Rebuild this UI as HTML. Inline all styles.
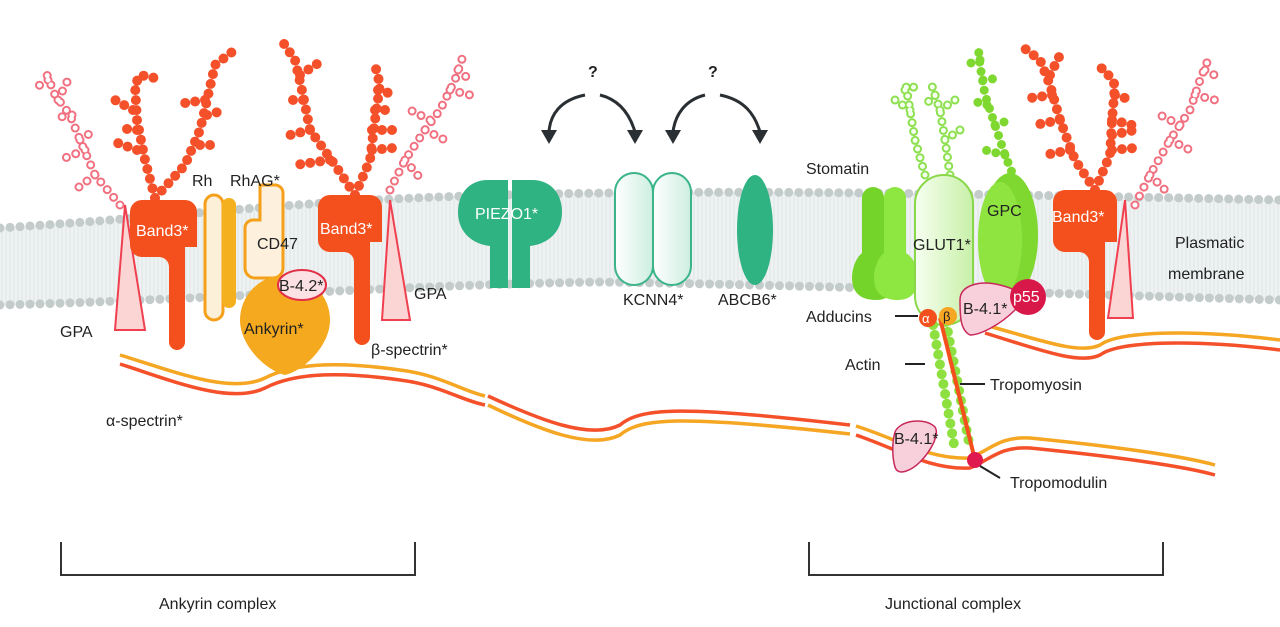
<!DOCTYPE html>
<html><head><meta charset="utf-8"><style>
html,body{margin:0;padding:0;background:#fff}
svg{display:block}
text{font-family:"Liberation Sans",sans-serif;font-size:16px;fill:#222}
</style></head><body>
<svg width="1280" height="627" viewBox="0 0 1280 627" xmlns="http://www.w3.org/2000/svg">
<defs>
<pattern id="lip" width="4" height="10" patternUnits="userSpaceOnUse"><rect width="4" height="10" fill="#eef2f2"/><line x1="2" y1="0" x2="2" y2="10" stroke="#dbe1e1" stroke-width="0.8"/></pattern>
<linearGradient id="pale" x1="0" x2="1"><stop offset="0" stop-color="#fff"/><stop offset="1" stop-color="#cdeee0"/></linearGradient>
<linearGradient id="pg" x1="0" x2="1"><stop offset="0" stop-color="#f6fff0"/><stop offset="1" stop-color="#c8f0a8"/></linearGradient>
</defs>
<!-- membrane -->
<path d="M0 228 C200 215 300 200 500 195 C700 190 900 192 1280 200 L1280 300 C1000 292 800 285 600 282 C400 285 200 300 0 305 Z" fill="url(#lip)"/>
<path d="M0 228 C200 215 300 200 500 195 C700 190 900 192 1280 200" fill="none" stroke="#c3cbcb" stroke-width="9" stroke-dasharray="0 10" stroke-linecap="round"/>
<path d="M0 305 C200 300 400 285 600 282 C800 285 1000 292 1280 300" fill="none" stroke="#c3cbcb" stroke-width="9" stroke-dasharray="0 10" stroke-linecap="round"/>

<!-- glycan trees red -->
<g fill="none" stroke="#f4502a" stroke-width="10" stroke-linecap="round" stroke-dasharray="0 10">
<path d="M155 198 L145 160 L137 120 L135 85 L140 75 L155 78"/>
<path d="M137 150 L115 142 M133 110 L115 100 M137 130 L118 128"/>
<path d="M155 198 L185 165 L200 130 L207 100 L215 65 L232 52"/>
<path d="M200 145 L220 145 M207 115 L225 110 M205 100 L185 103"/>
<path d="M355 195 L335 165 L310 130 L303 95 L295 60 L280 38"/>
<path d="M310 130 L290 135 M303 100 L285 100 M300 75 L320 62 M330 160 L295 165"/>
<path d="M355 195 L370 160 L375 120 L380 85 L375 65"/>
<path d="M372 150 L393 148 M375 110 L395 110 M378 90 L396 95 M372 130 L395 130"/>
<path d="M1095 190 L1075 160 L1060 120 L1050 85 L1040 60 L1020 45"/>
<path d="M1060 120 L1035 125 M1052 95 L1030 98 M1050 75 L1060 55 M1070 150 L1045 155"/>
<path d="M1095 190 L1110 155 L1112 120 L1115 85 L1105 70 L1095 65"/>
<path d="M1112 150 L1135 148 M1112 120 L1132 125 M1115 95 L1132 100 M1112 135 L1135 130"/>
</g>
<!-- pink GPA trees -->
<g fill="none" stroke="#f07080" stroke-width="9" stroke-linecap="round" stroke-dasharray="0 10">
<path d="M120 205 L95 175 L80 140 L70 115 L55 95 L45 70"/>
<path d="M80 140 L95 130 M72 115 L55 118 M58 100 L68 80 M48 80 L35 88 M85 150 L60 160 M95 175 L75 190"/>
<path d="M390 190 L405 160 L425 130 L440 110 L455 80 L465 50"/>
<path d="M425 130 L445 140 M430 120 L410 110 M450 90 L470 95 M458 70 L470 80 M405 160 L420 178"/>
<path d="M1135 205 L1150 175 L1170 140 L1190 110 L1200 80 L1210 55"/>
<path d="M1170 140 L1190 150 M1180 125 L1160 115 M1195 95 L1215 100 M1205 70 L1220 78 M1150 175 L1165 190"/>
</g>
<g fill="none" stroke="#fff" stroke-width="5" stroke-linecap="round" stroke-dasharray="0 10">
<path d="M120 205 L95 175 L80 140 L70 115 L55 95 L45 70"/>
<path d="M80 140 L95 130 M72 115 L55 118 M58 100 L68 80 M48 80 L35 88 M85 150 L60 160 M95 175 L75 190"/>
<path d="M390 190 L405 160 L425 130 L440 110 L455 80 L465 50"/>
<path d="M425 130 L445 140 M430 120 L410 110 M450 90 L470 95 M458 70 L470 80 M405 160 L420 178"/>
<path d="M1135 205 L1150 175 L1170 140 L1190 110 L1200 80 L1210 55"/>
<path d="M1170 140 L1190 150 M1180 125 L1160 115 M1195 95 L1215 100 M1205 70 L1220 78 M1150 175 L1165 190"/>
</g>
<!-- GLUT1 glycans -->
<g fill="none" stroke="#8ee050" stroke-width="9" stroke-linecap="round" stroke-dasharray="0 9">
<path d="M925 175 L915 140 L910 110 L905 80 M910 110 L895 100 M905 90 L920 85 M950 175 L945 140 L940 110 L930 80 M940 110 L955 100 M935 95 L925 105 M945 140 L960 130"/>
</g>
<g fill="none" stroke="#f4fff0" stroke-width="5" stroke-linecap="round" stroke-dasharray="0 9">
<path d="M925 175 L915 140 L910 110 L905 80 M910 110 L895 100 M905 90 L920 85 M950 175 L945 140 L940 110 L930 80 M940 110 L955 100 M935 95 L925 105 M945 140 L960 130"/>
</g>
<!-- GPC glycan -->
<g fill="none" stroke="#7fd830" stroke-width="9" stroke-linecap="round" stroke-dasharray="0 9.5">
<path d="M1015 180 L1005 155 L995 125 L985 95 L980 65 L978 45"/>
<path d="M995 125 L1010 120 M987 105 L970 100 M983 80 L1000 78 M980 60 L965 65 M1005 155 L985 150"/>
</g>

<!-- spectrin -->
<g fill="none" stroke-width="3.5">
<path d="M120 355 C170 370 230 395 265 378 C290 365 330 360 400 370 C440 375 460 390 485 396" stroke="#f5a623"/>
<path d="M120 364 C170 380 230 405 265 388 C290 375 330 370 400 380 C440 385 460 400 485 405" stroke="#f4502a"/>
<path d="M488 396 C540 420 590 440 620 425 C640 408 680 405 850 425" stroke="#f4502a"/>
<path d="M488 405 C540 430 590 450 620 435 C640 418 680 415 850 434" stroke="#f5a623"/>
<path d="M856 426 C900 440 930 460 970 458 C990 450 1000 436 1030 438 C1100 445 1180 455 1215 465" stroke="#f5a623"/>
<path d="M856 435 C900 450 930 470 970 468 C990 460 1000 446 1030 448 C1100 455 1180 465 1215 475" stroke="#f4502a"/>
<path d="M985 325 C1040 340 1080 355 1100 345 C1120 330 1200 330 1280 340" stroke="#f5a623"/>
<path d="M985 333 C1040 350 1080 365 1100 355 C1120 340 1200 340 1280 350" stroke="#f4502a"/>
</g>

<!-- GPA cones -->
<path d="M125 205 L115 330 L145 330 Z" fill="#fbd4d4" stroke="#f04050" stroke-width="2"/>
<path d="M390 200 L382 320 L410 320 Z" fill="#fbd4d4" stroke="#f04050" stroke-width="2"/>
<path d="M1125 200 L1108 318 L1133 318 Z" fill="#fbd4d4" stroke="#f04050" stroke-width="2"/>

<!-- Band3 -->
<g fill="#f4501e">
<path d="M130 200 h55 a12 12 0 0 1 12 12 v35 h-12 v95 a8 8 0 0 1 -16 0 v-75 a10 10 0 0 0 -10 -10 h-17 a12 12 0 0 1 -12 -12 v-33 a12 12 0 0 1 12 -12z"/>
<path d="M318 195 h52 a12 12 0 0 1 12 12 v35 h-12 v95 a8 8 0 0 1 -16 0 v-75 a10 10 0 0 0 -10 -10 h-14 a12 12 0 0 1 -12 -12 v-33 a12 12 0 0 1 12 -12z"/>
<path d="M1055 190 h50 a12 12 0 0 1 12 12 v40 h-12 v90 a8 8 0 0 1 -16 0 v-70 a10 10 0 0 0 -10 -10 h-14 a12 12 0 0 1 -12 -12 v-38 a12 12 0 0 1 12 -12z"/>
</g>
<text x="136" y="236" style="fill:#fff">Band3*</text>
<text x="320" y="234" style="fill:#fff">Band3*</text>
<text x="1052" y="222" style="fill:#fff">Band3*</text>

<!-- Rh / RhAG -->
<rect x="205" y="195" width="18" height="125" rx="9" fill="#fdf0d8" stroke="#f5a01a" stroke-width="3"/>
<rect x="222" y="198" width="14" height="110" rx="7" fill="#f5b020"/>
<path d="M260 185 h15 a8 8 0 0 1 8 8 v75 a10 10 0 0 1 -10 10 h-18 a10 10 0 0 1 -10 -10 v-40 a8 8 0 0 1 8 -8 h7 z" fill="#fdf0dc" stroke="#f5a01a" stroke-width="3"/>
<text x="192" y="186">Rh</text><text x="230" y="186">RhAG*</text>
<text x="257" y="249">CD47</text>
<path d="M240 320 a45 45 0 0 1 90 0 c0 25 -25 50 -45 55 c-20 -5 -45 -30 -45 -55z" fill="#f5a91e"/>
<text x="244" y="334">Ankyrin*</text>
<ellipse cx="302" cy="285" rx="24" ry="15" fill="#fbe0e4" stroke="#e23048" stroke-width="2"/>
<text x="279" y="291">B-4.2*</text>
<text x="60" y="337">GPA</text><text x="414" y="299">GPA</text>
<text x="371" y="355">β-spectrin*</text>
<text x="106" y="426">α-spectrin*</text>

<!-- PIEZO1 -->
<g fill="#2fb383">
<path d="M508 180 H488 C468 180 458 195 458 212 C458 232 472 244 490 246 V288 H508 Z"/>
<path d="M512 180 H532 C552 180 562 195 562 212 C562 232 548 244 530 246 V288 H512 Z"/>
</g>
<text x="475" y="219" style="fill:#fff">PIEZO1*</text>
<!-- KCNN4 -->
<rect x="615" y="173" width="38" height="112" rx="19" fill="url(#pale)" stroke="#3ab488" stroke-width="2"/>
<rect x="653" y="173" width="38" height="112" rx="19" fill="url(#pale)" stroke="#3ab488" stroke-width="2"/>
<text x="623" y="305">KCNN4*</text>
<ellipse cx="755" cy="230" rx="18" ry="55" fill="#2fb383"/>
<text x="718" y="305">ABCB6*</text>
<!-- arrows -->
<g fill="none" stroke="#2a2f33" stroke-width="3">
<path d="M585 95 C560 100 550 115 549 132"/><path d="M600 95 C620 100 630 115 635 132"/>
<path d="M705 95 C685 100 675 115 673 132"/><path d="M720 95 C745 100 755 115 760 132"/>
</g>
<g fill="#2a2f33">
<path d="M541 130 h16 l-8 14z"/><path d="M627 130 h16 l-8 14z"/><path d="M665 130 h16 l-8 14z"/><path d="M752 130 h16 l-8 14z"/>
</g>
<text x="588" y="77" style="font-weight:bold">?</text><text x="708" y="77" style="font-weight:bold">?</text>

<!-- stomatin -->
<path d="M862 198 a11 11 0 0 1 22 0 v55 c8 5 12 15 12 25 c0 15 -8 22 -20 22 c-18 0 -24 -10 -24 -22 c0 -10 4 -20 10 -25z" fill="#74d42a"/>
<path d="M884 198 a11 11 0 0 1 22 0 v55 c8 5 12 15 12 25 c0 15 -8 22 -20 22 c-18 0 -24 -10 -24 -22 c0 -10 4 -20 10 -25z" fill="#8ee640"/>
<text x="806" y="174">Stomatin</text>
<rect x="915" y="175" width="58" height="150" rx="29" fill="url(#pg)" stroke="#8ad84a" stroke-width="2"/>
<text x="913" y="250">GLUT1*</text>
<ellipse cx="1010" cy="235" rx="28" ry="62" fill="#7fd830"/>
<ellipse cx="1000" cy="240" rx="22" ry="58" fill="#90e440"/>
<text x="987" y="216">GPC</text>
<!-- actin -->
<g fill="none" stroke="#8de040" stroke-width="10" stroke-linecap="round" stroke-dasharray="0 10">
<path d="M933 325 L955 450"/><path d="M946 322 L970 448"/>
</g>
<line x1="940" y1="318" x2="975" y2="460" stroke="#f4501e" stroke-width="4"/>
<circle cx="928" cy="318" r="9" fill="#f4501e"/><text x="922" y="323" style="fill:#fff;font-size:13px">α</text>
<circle cx="948" cy="316" r="9" fill="#f5a623"/><text x="943" y="321" style="font-size:13px">β</text>
<path d="M960 300 c0 -15 20 -20 40 -15 c20 5 25 10 15 25 c-15 15 -35 25 -45 25 c-10 -5 -10 -20 -10 -35z" fill="#f8d0dc" stroke="#c8285a" stroke-width="1.5"/>
<text x="963" y="314">B-4.1*</text>
<circle cx="1028" cy="297" r="18" fill="#d81848"/>
<text x="1013" y="302" style="fill:#fff">p55</text>
<path d="M895 432 c5 -12 30 -15 40 -5 c5 8 -5 25 -15 35 c-8 8 -22 15 -25 5 c-3 -10 -3 -25 0 -35z" fill="#f8d0dc" stroke="#c8285a" stroke-width="1.5"/>
<text x="894" y="444">B-4.1*</text>
<circle cx="975" cy="460" r="8" fill="#e01850"/>
<g stroke="#222" stroke-width="2"><line x1="895" y1="316" x2="918" y2="316"/><line x1="905" y1="364" x2="925" y2="364"/><line x1="960" y1="384" x2="985" y2="384"/><line x1="980" y1="466" x2="1000" y2="478"/></g>
<text x="806" y="322">Adducins</text>
<text x="845" y="370">Actin</text>
<text x="990" y="390">Tropomyosin</text>
<text x="1010" y="488">Tropomodulin</text>
<text x="1175" y="248">Plasmatic</text><text x="1168" y="279">membrane</text>

<g fill="none" stroke="#333" stroke-width="2">
<path d="M61 542 V575 H415 V542"/><path d="M809 542 V575 H1163 V542"/>
</g>
<text x="159" y="609">Ankyrin complex</text>
<text x="885" y="609">Junctional complex</text>
</svg>
</body></html>
